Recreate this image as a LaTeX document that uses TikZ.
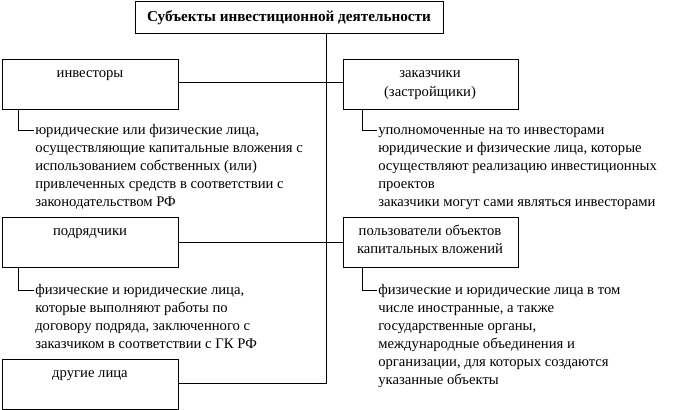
\documentclass[tikz,border=0pt]{standalone}
\usepackage{fontspec}
\setmainfont{Liberation Serif}
\begin{document}
\begin{tikzpicture}[x=0.75pt,y=-0.75pt,
  box/.style={draw,line width=0.75pt},
  ln/.style={line width=0.75pt},
  txt/.style={anchor=base west,inner sep=0,font=\fontsize{11}{13.5}\selectfont},
  ctr/.style={anchor=base,inner sep=0,font=\fontsize{11}{13.5}\selectfont,align=center}]
\useasboundingbox (0,0) rectangle (692,410);
\draw[box] (135,2) rectangle (443,34);
\node[ctr,font=\bfseries\fontsize{11.4}{12}\selectfont] (t) at (289,22) {Субъекты инвестиционной деятельности};
\coordinate (top) at (326,34);
\coordinate (bot) at (326,383);
\draw[ln] (top) -- (bot) -- (178,383);
% boxes
\draw[box] (2,60) rectangle (178,109);
\node[ctr] (inv) at (90,78) {инвесторы};
\draw[box] (343,60) rectangle (518,109);
\node[ctr] (zak) at (430,78) {заказчики};
\node[ctr] (zak2) at (430,96) {(застройщики)};
\draw[ln] (178,83) -- (343,83);
\draw[box] (2,217) rectangle (178,267);
\node[ctr] (pod) at (90,235) {подрядчики};
\draw[box] (343,217) rectangle (518,267);
\node[ctr] (pol) at (430,235) {пользователи объектов};
\node[ctr] (pol2) at (430,253) {капитальных вложений};
\draw[ln] (178,242) -- (343,242);
\draw[box] (2,359) rectangle (178,409);
\node[ctr] (dr) at (90,377) {другие лица};
% brackets
\draw[ln] (18,109) -- (18,130) -- (34,130);
\draw[ln] (362,109) -- (362,130) -- (377,130);
\draw[ln] (18,267) -- (18,290) -- (34,290);
\draw[ln] (362,267) -- (362,290) -- (377,290);
% texts
\foreach \s [count=\i] in {юридические или физические лица{,},осуществляющие капитальные вложения с,использованием собственных (или),привлеченных средств в соответствии с,законодательством РФ}
  \node[txt] at (35,{134+18*(\i-1)}) {\s};
\foreach \s [count=\i] in {уполномоченные на то инвесторами,юридические и физические лица{,} которые,осуществляют реализацию инвестиционных,проектов,заказчики могут сами являться инвесторами}
  \node[txt] at (378,{134+18*(\i-1)}) {\s};
\foreach \s [count=\i] in {физические и юридические лица{,},которые выполняют работы по,договору подряда{,} заключенного с,заказчиком в соответствии с ГК РФ}
  \node[txt] at (35,{294+18*(\i-1)}) {\s};
\foreach \s [count=\i] in {физические и юридические лица в том,числе иностранные{,} а также,государственные органы{,},международные объединения и,организации{,} для которых создаются,указанные объекты}
  \node[txt] at (378,{294+18*(\i-1)}) {\s};
\end{tikzpicture}
\end{document}
